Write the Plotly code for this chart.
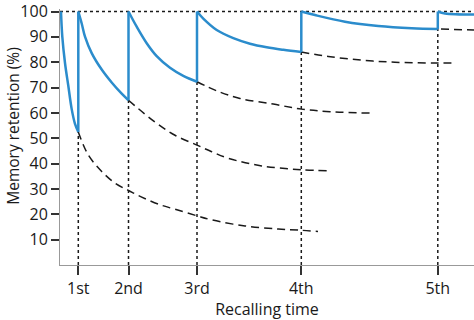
import plotly.graph_objects as go

# Time axis (arbitrary time units) and recall moments
recall_t = [18.3, 68.5, 137.0, 241.3, 377.8]
recall_labels = ["1st", "2nd", "3rd", "4th", "5th"]
t_end = 414.0

# Retention curves (solid, blue): decay after each learning/recall
seg0_t = [1.0, 2.3, 5.0, 8.3, 11.7, 15.0, 18.3]
seg0_v = [100, 90.1, 79.7, 70.7, 61.5, 55.7, 52.5]
seg1_t = [18.3, 21.7, 25.0, 31.7, 41.7, 51.7, 61.7, 68.5]
seg1_v = [100, 95.3, 90.1, 83.6, 77.1, 72.0, 67.6, 65.0]
seg2_t = [68.5, 76.7, 86.7, 96.7, 110.0, 123.3, 137.0]
seg2_v = [100, 94.0, 87.5, 82.4, 77.8, 74.6, 72.3]
seg3_t = [137.0, 143.3, 156.7, 173.3, 190.0, 206.7, 223.3, 241.3]
seg3_v = [100, 97.2, 92.7, 89.5, 87.3, 85.9, 84.9, 84.0]
seg4_t = [241.3, 255.0, 285.0, 318.3, 351.7, 377.8]
seg4_v = [100, 98.6, 96.0, 94.3, 93.4, 93.1]
seg5_t = [377.8, 385.0, 414.0]
seg5_v = [100, 99.2, 98.8]

# Forgetting without recall (dashed)
dash1_t = [18.3, 28.3, 41.7, 55.0, 68.5, 81.7, 98.3, 115.0, 137.0, 151.7, 185.0, 218.3, 241.3, 258.0]
dash1_v = [52.5, 43.4, 36.9, 32.3, 29.4, 26.8, 24.0, 22.0, 19.4, 17.8, 15.4, 14.2, 13.7, 13.2]
dash2_t = [68.5, 95.0, 115.0, 137.0, 151.7, 168.3, 201.7, 241.3, 268.3]
dash2_v = [65.0, 56.4, 51.2, 47.3, 44.7, 42.1, 39.1, 37.6, 37.2]
dash3_t = [137.0, 156.7, 180.0, 213.3, 241.3, 270.0, 311.7]
dash3_v = [72.3, 68.7, 65.7, 63.5, 61.5, 60.5, 59.9]
dash4_t = [241.3, 268.3, 301.7, 335.0, 377.8, 396.7]
dash4_v = [84.0, 82.3, 80.8, 80.0, 79.7, 79.7]
dash5_t = [381.0, 414.0]
dash5_v = [93.1, 92.7]

y_ticks = [10, 20, 30, 40, 50, 60, 70, 80, 90, 100]

BLUE = "#2b8ccc"
BLACK = "#1a1a1a"
FONT = "Open Sans"

fig = go.Figure()

# top dotted reference line at 100 %
fig.add_trace(go.Scatter(x=[0, t_end], y=[100, 100], mode="lines",
                         line=dict(color=BLACK, width=1.5, dash="dot"), hoverinfo="skip"))

# vertical dotted lines at each recall
lows = [seg0_v[-1], seg1_v[-1], seg2_v[-1], seg3_v[-1], seg4_v[-1]]
for t, low in zip(recall_t, lows):
    fig.add_trace(go.Scatter(x=[t, t], y=[0, low], mode="lines",
                             line=dict(color=BLACK, width=1.5, dash="dot"), hoverinfo="skip"))

# dashed forgetting curves
for xs, ys in [(dash1_t, dash1_v), (dash2_t, dash2_v), (dash3_t, dash3_v),
               (dash4_t, dash4_v), (dash5_t, dash5_v)]:
    fig.add_trace(go.Scatter(x=xs, y=ys, mode="lines", line_shape="spline",
                             line=dict(color=BLACK, width=1.5, dash="8px,5px"), hoverinfo="skip"))

# blue retention curves
segs = [(seg0_t, seg0_v), (seg1_t, seg1_v), (seg2_t, seg2_v),
        (seg3_t, seg3_v), (seg4_t, seg4_v), (seg5_t, seg5_v)]
for xs, ys in segs:
    fig.add_trace(go.Scatter(x=xs, y=ys, mode="lines", line_shape="spline",
                             line=dict(color=BLUE, width=2.5), hoverinfo="skip"))
# blue vertical jumps back to 100 % at each recall
for t, low in zip(recall_t, lows):
    fig.add_trace(go.Scatter(x=[t, t], y=[low, 100], mode="lines",
                             line=dict(color=BLUE, width=2.5), hoverinfo="skip"))

fig.update_layout(
    width=474, height=320,
    margin=dict(l=60, r=0, t=5, b=55),
    paper_bgcolor="white", plot_bgcolor="white",
    showlegend=False,
    font=dict(family=FONT, size=16, color="#1a1a1a"),
    xaxis=dict(range=[0, t_end], tickmode="array", tickvals=recall_t, ticktext=recall_labels,
               showgrid=False, zeroline=False, showline=True, linecolor="#999", linewidth=1,
               ticks="outside", ticklen=9, tickwidth=1.5, tickcolor="#333",
               tickfont=dict(size=16),
               title=dict(text="Recalling time", standoff=7, font=dict(size=16))),
    yaxis=dict(range=[0, 101], tickmode="array", tickvals=y_ticks,
               showgrid=False, zeroline=False, showline=True, linecolor="#999", linewidth=1,
               ticks="outside", ticklen=8, tickwidth=1.5, tickcolor="#333",
               tickfont=dict(size=16), ticklabeloverflow="allow"),
    annotations=[dict(text="Memory retention (%)", xref="paper", yref="paper",
                      x=-60 / 414, y=0.54, xanchor="left", yanchor="middle",
                      textangle=-90, showarrow=False, font=dict(size=15.5))],
)

fig.write_html("out.html")
